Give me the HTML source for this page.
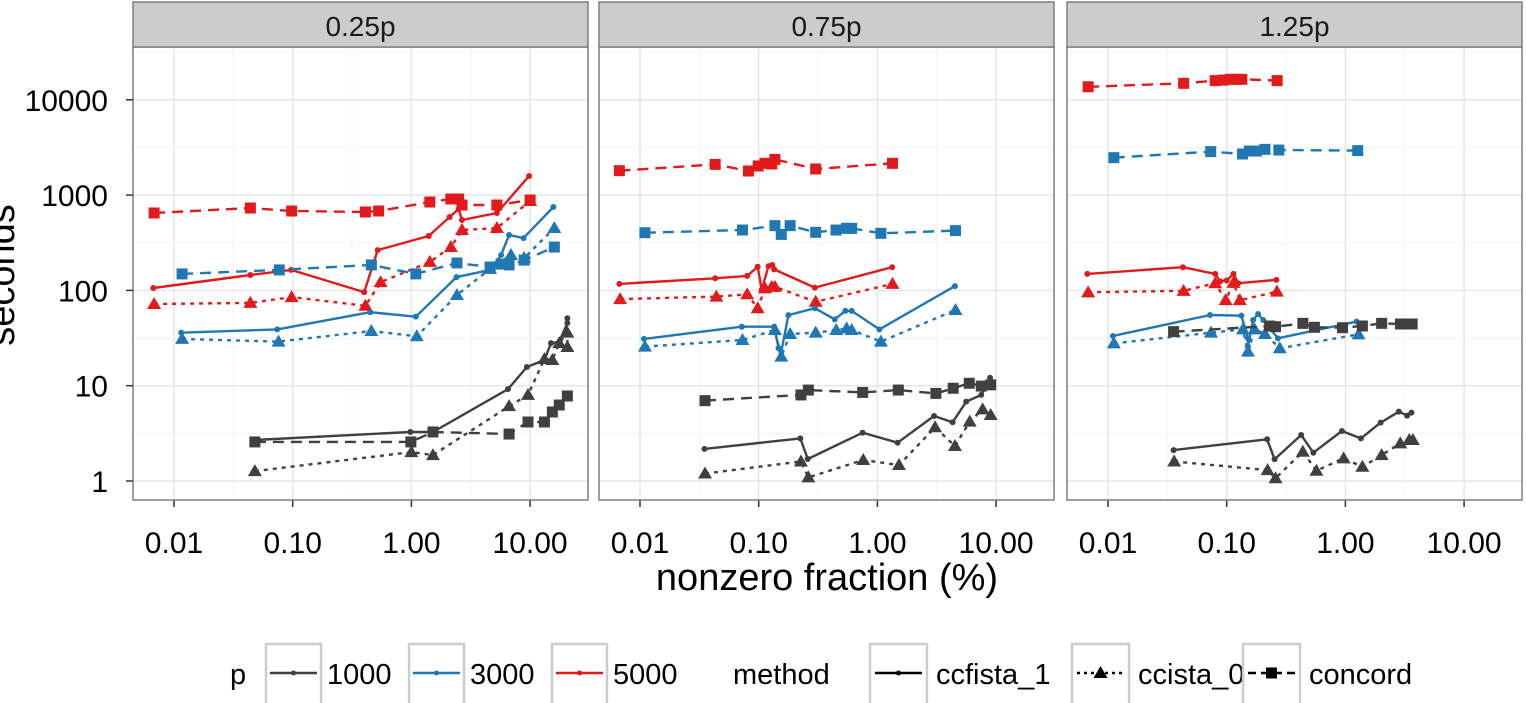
<!DOCTYPE html>
<html><head><meta charset="utf-8">
<style>
html,body{margin:0;padding:0;background:#fff;}
svg{display:block;font-family:"Liberation Sans",Arial,sans-serif;}
</style></head>
<body>
<svg id="chart" width="1526" height="703" viewBox="0 0 1526 703" xmlns="http://www.w3.org/2000/svg">
</svg>
<script>
// ---- data: [nonzero fraction %, seconds] ----
const panels = ["0.25p","0.75p","1.25p"];
const xTicks = [0.01,0.1,1,10];
const xTickLabels = ["0.01","0.10","1.00","10.00"];
const yTicks = [1,10,100,1000,10000];
const yTickLabels = ["1","10","100","1000","10000"];

// panel 0.25p
const a_5000_concord = [[0.0068,649],[0.044,732],[0.098,681],[0.41,665],[0.53,681],[1.43,846],[2.15,910],[2.5,910],[2.67,787],[5.25,787],[10,888]];
const a_5000_ccfista = [[0.0067,106],[0.044,145],[0.097,164],[0.40,96],[0.52,265],[1.4,372],[2.1,589],[2.5,714],[2.67,548],[5.25,649],[9.8,1585]];
const a_5000_ccista = [[0.0068,72],[0.044,74],[0.098,85],[0.41,69],[0.55,122],[1.43,199],[2.15,285],[2.67,430],[5.25,451],[10,867]];
const a_3000_concord = [[0.0117,149],[0.077,164],[0.46,185],[1.09,149],[2.42,194],[4.6,176],[5.7,189],[6.65,185],[8.9,208],[16,285]];
const a_3000_ccfista = [[0.0115,36],[0.074,39],[0.45,59],[1.09,53],[2.4,138],[4.6,164],[5.7,235],[6.65,381],[8.8,354],[15.7,750]];
const a_3000_ccista = [[0.0117,31],[0.076,29],[0.46,37.5],[1.11,33],[2.42,89.5],[4.6,168],[6.9,235],[8.9,219],[16,451]];
const a_1000_concord = [[0.048,2.57],[0.99,2.57],[1.52,3.27],[6.65,3.11],[9.6,4.16],[13.2,4.16],[15.4,5.3],[17.6,6.27],[20.6,7.8]];
const a_1000_ccfista = [[0.048,2.69],[0.98,3.27],[1.52,3.27],[6.5,9.2],[9.4,15.7],[13.2,18.6],[15,28],[17.6,28.8],[20.6,45.5],[20.6,51]];
const a_1000_ccista = [[0.048,1.27],[1.0,2.01],[1.52,1.87],[6.65,6.1],[9.6,8.0],[13.2,19],[15.4,18.6],[17.6,28],[20.6,36],[20.6,25.5]];

// panel 0.75p
const b_5000_concord = [[0.0067,1805],[0.043,2100],[0.082,1790],[0.099,2020],[0.113,2155],[0.129,2120],[0.137,2370],[0.302,1880],[1.34,2155]];
const b_5000_ccfista = [[0.0067,117],[0.043,134],[0.080,142],[0.098,177],[0.106,101],[0.121,180],[0.13,185],[0.135,166],[0.297,107],[1.33,175]];
const b_5000_ccista = [[0.0068,81],[0.044,86],[0.080,91],[0.098,65],[0.113,105],[0.129,109],[0.137,109],[0.302,76],[1.34,117]];
const b_3000_concord = [[0.011,403],[0.073,430],[0.137,478],[0.155,387],[0.184,478],[0.302,407],[0.448,430],[0.55,448],[0.607,448],[1.07,397],[4.55,424]];
const b_3000_ccfista = [[0.0108,31],[0.072,41.6],[0.135,41.6],[0.147,24.7],[0.155,22.7],[0.178,55],[0.297,65],[0.437,49.7],[0.537,61],[0.607,61],[1.04,39],[4.5,111]];
const b_3000_ccista = [[0.011,25.7],[0.073,30.2],[0.137,38.4],[0.155,20.2],[0.184,34.9],[0.302,36],[0.45,38.4],[0.55,40],[0.607,38.4],[1.07,29],[4.55,62.3]];
const b_1000_concord = [[0.0353,6.97],[0.227,8.0],[0.262,9.0],[0.752,8.5],[1.5,9.0],[3.11,8.3],[4.35,9.4],[5.94,10.6],[7.5,9.9],[9.0,10.2]];
const b_1000_ccfista = [[0.0349,2.17],[0.224,2.8],[0.259,1.70],[0.75,3.21],[1.48,2.52],[3.0,4.81],[4.3,4.13],[5.6,6.8],[7.5,8.0],[8.9,12.1]];
const b_1000_ccista = [[0.0353,1.2],[0.227,1.6],[0.262,1.09],[0.76,1.66],[1.52,1.47],[3.06,3.66],[4.5,2.33],[6.0,4.2],[7.7,5.65],[9.0,4.93]];

// panel 1.25p
const c_5000_concord = [[0.0068,13700],[0.0434,14900],[0.080,15900],[0.094,16100],[0.107,16400],[0.121,16400],[0.134,16400],[0.266,15900]];
const c_5000_ccfista = [[0.0067,149],[0.0428,175],[0.080,149],[0.088,124],[0.0998,127],[0.114,149],[0.125,119],[0.262,129]];
const c_5000_ccista = [[0.0068,95.4],[0.0433,99],[0.080,119],[0.098,79],[0.114,120],[0.129,79],[0.265,97]];
const c_3000_concord = [[0.0112,2470],[0.0734,2860],[0.136,2700],[0.155,2900],[0.178,2900],[0.21,3020],[0.275,2970],[1.27,2930]];
const c_3000_ccfista = [[0.0110,33.2],[0.0724,55.2],[0.133,54.3],[0.151,31.4],[0.151,25.7],[0.167,48.9],[0.184,56.5],[0.203,48.9],[0.27,31.4],[1.24,47]];
const c_3000_ccista = [[0.0112,27.8],[0.0737,36],[0.137,39],[0.151,22.8],[0.172,39],[0.21,34.9],[0.28,24.7],[1.29,34.6]];
const c_1000_concord = [[0.0357,36.9],[0.23,42.3],[0.258,41.6],[0.438,45.1],[0.548,41],[0.946,40.6],[1.39,42.3],[2.02,45.1],[2.91,44.4],[3.2,44.4],[3.65,44.4]];
const c_1000_ccfista = [[0.0357,2.11],[0.219,2.74],[0.253,1.69],[0.424,3.04],[0.537,1.98],[0.934,3.35],[1.35,2.8],[1.98,4.1],[2.82,5.34],[3.31,4.85],[3.6,5.21]];
const c_1000_ccista = [[0.0361,1.6],[0.221,1.3],[0.258,1.07],[0.438,2.03],[0.57,1.28],[0.966,1.73],[1.39,1.41],[2.02,1.87],[2.9,2.48],[3.45,2.69],[3.7,2.69]];

const colors = {"1000":"#404040","3000":"#1f78b4","5000":"#e31a1c"};
const panelSeries = [
  [["5000","concord",a_5000_concord],["5000","ccfista",a_5000_ccfista],["5000","ccista",a_5000_ccista],
   ["3000","concord",a_3000_concord],["3000","ccfista",a_3000_ccfista],["3000","ccista",a_3000_ccista],
   ["1000","concord",a_1000_concord],["1000","ccfista",a_1000_ccfista],["1000","ccista",a_1000_ccista]],
  [["5000","concord",b_5000_concord],["5000","ccfista",b_5000_ccfista],["5000","ccista",b_5000_ccista],
   ["3000","concord",b_3000_concord],["3000","ccfista",b_3000_ccfista],["3000","ccista",b_3000_ccista],
   ["1000","concord",b_1000_concord],["1000","ccfista",b_1000_ccfista],["1000","ccista",b_1000_ccista]],
  [["5000","concord",c_5000_concord],["5000","ccfista",c_5000_ccfista],["5000","ccista",c_5000_ccista],
   ["3000","concord",c_3000_concord],["3000","ccfista",c_3000_ccfista],["3000","ccista",c_3000_ccista],
   ["1000","concord",c_1000_concord],["1000","ccfista",c_1000_ccfista],["1000","ccista",c_1000_ccista]]
];

const svg = document.getElementById('chart');
const NS = "http://www.w3.org/2000/svg";
function mk(tag, attrs, parent){
  const e = document.createElementNS(NS, tag);
  for (const k in attrs) e.setAttribute(k, attrs[k]);
  (parent||svg).appendChild(e);
  return e;
}
const panelLeft = [133, 599, 1067];
const panelW = 455;
const pTop = 47, pBottom = 500;
const decX = 118.7, decY = 95.3;
function xScale(i, v){ return panelLeft[i] + 41 + (Math.log10(v) + 2) * decX; }
function yScale(v){ return 481 - Math.log10(v) * decY; }

const dashes = {ccfista:"", ccista:"4,5", concord:"11,7"};

panels.forEach((name, i) => {
  const L = panelLeft[i], R = L + panelW;
  const g = mk('g', {});
  
  
  mk('rect', {x:L, y:pTop, width:panelW, height:pBottom-pTop, fill:'#fff'}, g);
  for (let d = -3; d <= 4; d++) {
    const x = xScale(i, Math.pow(10, d + 0.5));
    if (x > L && x < R) mk('line', {x1:x, x2:x, y1:pTop, y2:pBottom, stroke:'#f2f2f2', 'stroke-width':1}, g);
    const y = yScale(Math.pow(10, d + 0.5));
    if (y > pTop && y < pBottom) mk('line', {x1:L, x2:R, y1:y, y2:y, stroke:'#f2f2f2', 'stroke-width':1}, g);
  }
  xTicks.forEach((t, k) => {
    const x = xScale(i, t);
    mk('line', {x1:x, x2:x, y1:pTop, y2:pBottom, stroke:'#e6e6e6', 'stroke-width':1.5}, g);
    mk('line', {x1:x, x2:x, y1:pBottom, y2:pBottom+7, stroke:'#333', 'stroke-width':1.5}, g);
    const tl = mk('text', {x:x, y:553, 'font-size':30, 'text-anchor':'middle', fill:'#000'}, g);
    tl.textContent = xTickLabels[k];
    
    
  });
  yTicks.forEach(t => {
    const y = yScale(t);
    mk('line', {x1:L, x2:R, y1:y, y2:y, stroke:'#e6e6e6', 'stroke-width':1.5}, g);
  });
  panelSeries[i].forEach(([p, m, data]) => {
    const col = colors[p];
    const sg = mk('g', {}, g);
    
    
    const pts = data.map(d => xScale(i, d[0]).toFixed(1) + ',' + yScale(d[1]).toFixed(1)).join(' ');
    const pl = mk('polyline', {points:pts, fill:'none', stroke:col, 'stroke-width':2.4, 'stroke-linejoin':'round'}, sg);
    if (dashes[m]) pl.setAttribute('stroke-dasharray', dashes[m]);
    data.forEach(d => {
      const x = xScale(i, d[0]), y = yScale(d[1]);
      let mark;
      if (m === 'ccfista') mark = mk('circle', {cx:x, cy:y, r:3, fill:col}, sg);
      else if (m === 'ccista') mark = mk('polygon', {points:`${x},${y-7} ${x-7},${y+5} ${x+7},${y+5}`, fill:col}, sg);
      else mark = mk('rect', {x:x-5.5, y:y-5.5, width:11, height:11, fill:col}, sg);
      
      
    });
  });
  mk('rect', {x:L, y:pTop, width:panelW, height:pBottom-pTop, fill:'none', stroke:'#7f7f7f', 'stroke-width':1.5}, g);
  const st = mk('rect', {x:L, y:2, width:panelW, height:pTop-2, fill:'#cccccc', stroke:'#7f7f7f', 'stroke-width':1.5});
  
  
  const stt = mk('text', {x:L + panelW/2, y:36, 'font-size':28, 'text-anchor':'middle', fill:'#1a1a1a'});
  stt.textContent = name;
  
  
});

yTicks.forEach((t, k) => {
  const y = yScale(t);
  mk('line', {x1:126, x2:133, y1:y, y2:y, stroke:'#333', 'stroke-width':1.5});
  const tl = mk('text', {x:108, y:y+11, 'font-size':30, 'text-anchor':'end', fill:'#000'});
  tl.textContent = yTickLabels[k];
  
  
});
const yt = mk('text', {x:0, y:0, 'font-size':38, 'text-anchor':'middle', transform:'translate(14,275) rotate(-90)', fill:'#000'});
yt.textContent = 'seconds';


const xt = mk('text', {x:827, y:590, 'font-size':38, 'text-anchor':'middle', fill:'#000'});
xt.textContent = 'nonzero fraction (%)';



const legY = 673;
function legText(x, s, name){
  const t = mk('text', {x:x, y:legY+11, 'font-size':29, fill:'#000'});
  t.textContent = s;
  
  
}
function keyBox(x, w){
  mk('rect', {x:x, y:644, width:w, height:62, fill:'#fff', stroke:'#cccccc', 'stroke-width':2.5});
}
legText(230, 'p', 'legend-title-p');
const pKeys = [["1000",266],["3000",409],["5000",552]];
pKeys.forEach(([p, x]) => {
  keyBox(x, 55);
  mk('line', {x1:x+4, x2:x+51, y1:legY, y2:legY, stroke:colors[p], 'stroke-width':2.6});
  mk('circle', {cx:x+27.5, cy:legY, r:2.5, fill:colors[p]});
  legText(x+61, p, 'legend-entry-' + p);
});
legText(733, 'method', 'legend-title-method');
const mKeys = [["ccfista",870,"ccfista_1"],["ccista",1072,"ccista_0"],["concord",1243,"concord"]];
mKeys.forEach(([m, x, lab]) => {
  keyBox(x, 57);
  const l = mk('line', {x1:x+5, x2:x+52, y1:legY, y2:legY, stroke:'#000', 'stroke-width':2.4});
  if (dashes[m]) l.setAttribute('stroke-dasharray', m === 'ccista' ? '3,4' : '8,5');
  const cx = x + 28.5;
  if (m === 'ccfista') mk('circle', {cx:cx, cy:legY, r:2.5, fill:'#000'});
  else if (m === 'ccista') mk('polygon', {points:`${cx},${legY-7} ${cx-7},${legY+5} ${cx+7},${legY+5}`, fill:'#000'});
  else mk('rect', {x:cx-5.5, y:legY-5.5, width:11, height:11, fill:'#000'});
  legText(x+66, lab, 'legend-entry-' + m);
});
</script>
</body></html>
